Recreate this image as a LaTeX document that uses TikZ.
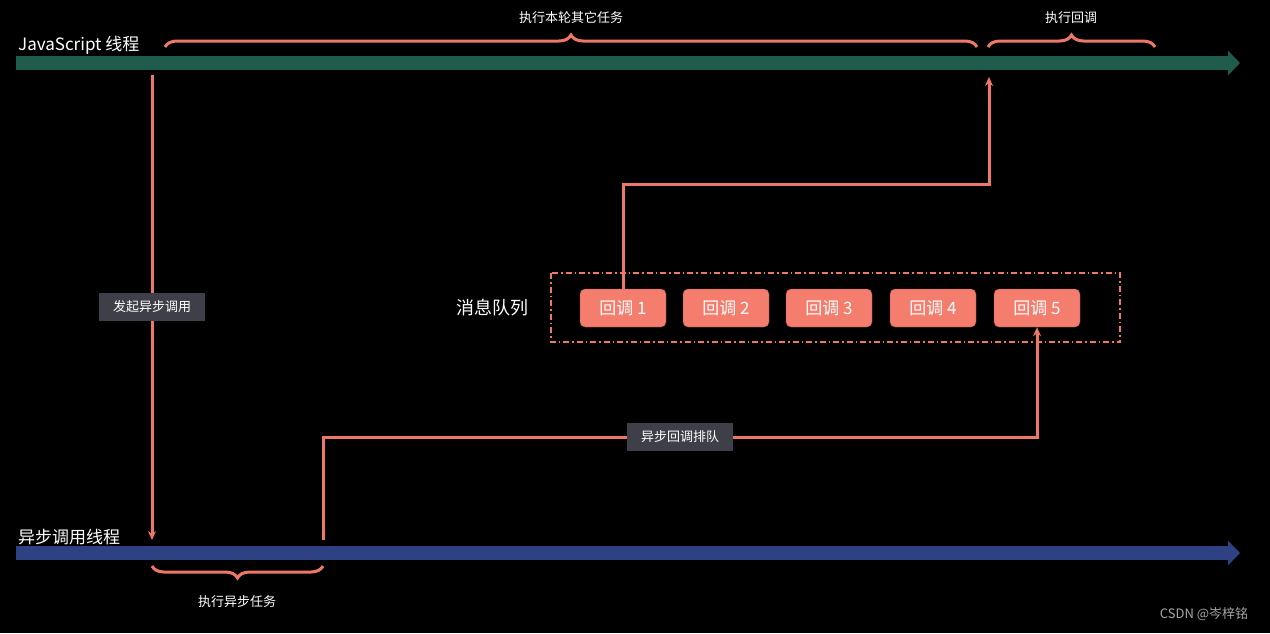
\documentclass[tikz,border=0pt]{standalone}
\usepackage{fontspec}
\setmainfont{Noto Sans CJK SC}
\usetikzlibrary{decorations.pathreplacing,arrows.meta}
\definecolor{sal}{HTML}{EE7767}
\definecolor{boxc}{HTML}{F47D6D}
\definecolor{grn}{HTML}{1F5C4E}
\definecolor{blu}{HTML}{2E4283}
\definecolor{lab}{HTML}{3E3F48}
\tikzset{
 bar/.style={line width=14pt,-{Triangle[length=12pt,width=24pt]}},
 conn/.style={sal,line width=3pt,-{Stealth[length=9pt,width=8pt]}},
 br/.style={sal,line width=3pt,decorate,decoration={brace,amplitude=12pt}},
 cb/.style={fill=boxc,draw=sal!70!black,rounded corners=5pt,minimum width=86pt,minimum height=38pt,text=white,font=\fontsize{17}{17}\selectfont},
 tag/.style={fill=lab,text=white,font=\fontsize{13}{13}\selectfont,inner xsep=14pt,minimum height=28pt},
 wt/.style={text=white,font=\fontsize{13}{13}\selectfont}
}
\begin{document}
\begin{tikzpicture}[x=1pt,y=-1pt]
\fill[black] (0,0) rectangle (1270,633);
\coordinate (js0) at (16,63); \coordinate (js1) at (1240,63);
\coordinate (as0) at (16,553); \coordinate (as1) at (1240,553);
\draw[bar,grn] (js0) -- (js1);
\draw[bar,blu] (as0) -- (as1);
\node[anchor=south west,text=white,font=\fontsize{17}{17}\selectfont,inner sep=0pt] (jsl) at (18,55) {JavaScript 线程};
\node[anchor=south west,text=white,font=\fontsize{17}{17}\selectfont,inner sep=0pt] (asl) at (18,545) {异步调用线程};
% braces
\coordinate (b1a) at (165,47); \coordinate (b1b) at (977,47);
\draw[br] (b1a) -- (b1b);
\node[wt] (t1) at (571,18) {执行本轮其它任务};
\coordinate (b2a) at (988,47); \coordinate (b2b) at (1155,47);
\draw[br] (b2a) -- (b2b);
\node[wt] (t2) at (1071,18) {执行回调};
\coordinate (b3a) at (323,566); \coordinate (b3b) at (152,566);
\draw[br] (b3a) -- (b3b);
\node[wt] (t3) at (237,602) {执行异步任务};
% queue
\draw[sal,line width=1.2pt,dash pattern=on 6pt off 3pt on 1.5pt off 3pt] (551,273) rectangle (1120,342);
\node[text=white,font=\fontsize{18}{18}\selectfont] (ql) at (492,308) {消息队列};
\node[cb] (c1) at (623,308) {回调 1};
\node[cb] (c2) at (726,308) {回调 2};
\node[cb] (c3) at (829,308) {回调 3};
\node[cb] (c4) at (933,308) {回调 4};
\node[cb] (c5) at (1037,308) {回调 5};
% connectors
\coordinate (s1) at (152,75); \coordinate (e1) at (152,540);
\draw[conn] (s1) -- (e1);
\node[tag] (l1) at (152,307) {发起异步调用};
\coordinate (e2) at (989,77);
\draw[conn] (c1.north) |- (806,184) -| (e2);
\coordinate (s3) at (323,540);
\draw[conn] (s3) |- (680,437) -| (c5.south);
\node[tag] (l3) at (680,437) {异步回调排队};
\node[text=gray!70,font=\fontsize{13}{13}\selectfont] (csdn) at (1204,614) {CSDN @岑梓铭};
\end{tikzpicture}
\end{document}
